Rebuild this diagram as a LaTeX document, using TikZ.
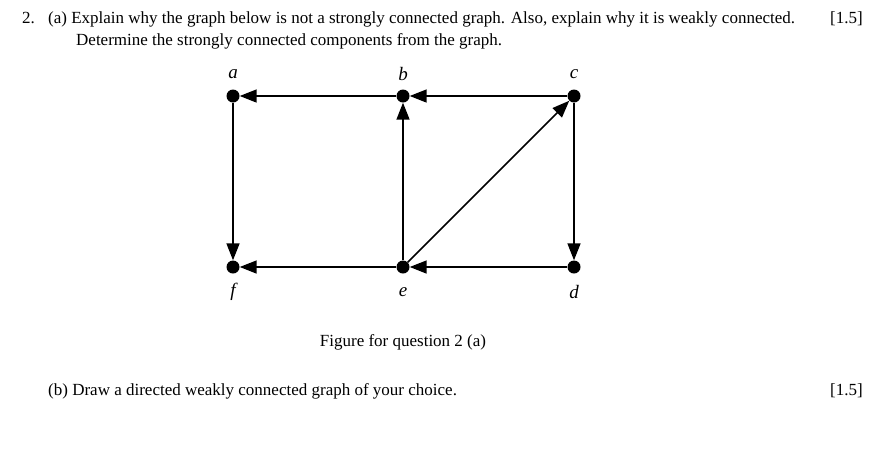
\documentclass[tikz,border=0pt]{standalone}
\usepackage{fontspec}
\setmainfont{Liberation Serif}
\usetikzlibrary{arrows.meta}
\begin{document}
\begin{tikzpicture}[x=1pt,y=-1pt,
  vtx/.style={circle,fill=black,inner sep=0pt,minimum size=13pt},
  lbl/.style={font=\fontsize{19}{22}\selectfont\itshape},
  txt/.style={font=\fontsize{17}{20}\selectfont,anchor=base west,inner sep=0pt},
  edge/.style={line width=1.6pt,-{Triangle[length=17pt,width=13pt]}}]
\useasboundingbox (0,0) rectangle (896,451);
\node[txt] (q) at (22,23) {2.};
\node[txt] (qa) at (48,23) {(a) Explain why the graph below is not a strongly connected graph. Also, explain why it is weakly connected.};
\node[txt] (qa2) at (76,45) {Determine the strongly connected components from the graph.};
\node[txt] (p1) at (830,23) {[1.5]};
\node[vtx] (a) at (233,96) {};
\node[vtx] (b) at (403,96) {};
\node[vtx] (c) at (574,96) {};
\node[vtx] (f) at (233,267) {};
\node[vtx] (e) at (403,267) {};
\node[vtx] (d) at (574,267) {};
\node[lbl] (la) at (233,74) {a};
\node[lbl] (lb) at (403,74) {b};
\node[lbl] (lc) at (574,74) {c};
\node[lbl] (lf) at (233,292) {f};
\node[lbl] (le) at (403,292) {e};
\node[lbl] (ld) at (574,292) {d};
\draw[edge] (b) -- (a);
\draw[edge] (c) -- (b);
\draw[edge] (a) -- (f);
\draw[edge] (e) -- (b);
\draw[edge] (e) -- (c);
\draw[edge] (c) -- (d);
\draw[edge] (e) -- (f);
\draw[edge] (d) -- (e);
\node[txt,anchor=base] (cap) at (403,346) {Figure for question 2 (a)};
\node[txt] (qb) at (48,395) {(b) Draw a directed weakly connected graph of your choice.};
\node[txt] (p2) at (830,395) {[1.5]};
\end{tikzpicture}
\end{document}
